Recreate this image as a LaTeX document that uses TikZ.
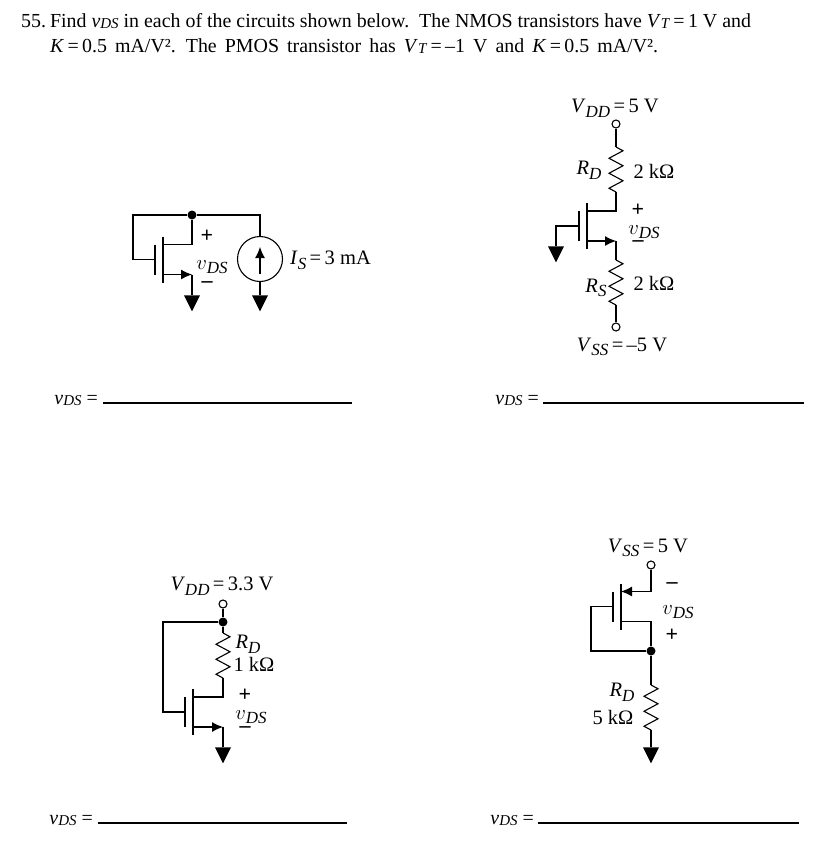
\documentclass[tikz,border=0pt]{standalone}
\usepackage{fontspec}
\setmainfont{Liberation Serif}
\usepackage{tikz}
\usetikzlibrary{shapes,shapes.geometric,arrows.meta,positioning,decorations.pathmorphing}

\newcommand{\sub}[2]{\textit{#1}\raisebox{-0.2ex}{\fontsize{15}{15}\selectfont\textit{#2}}}
\newcommand{\csub}[2]{#1\raisebox{-0.5ex}{\fontsize{17}{17}\selectfont\textit{#2}}}

\tikzstyle{textonly} = [draw=none, fill=none, inner sep=0pt, font=\fontsize{19.9}{22}\selectfont]
\tikzstyle{label} = [draw=none, fill=none, inner sep=0pt, font=\fontsize{20.5}{22}\selectfont]
\tikzstyle{sign} = [draw=none, fill=none, inner sep=0pt, font=\fontsize{22}{22}\selectfont\bfseries]
\tikzstyle{wire} = [draw, line width=1.1pt]
\tikzstyle{tedge} = [draw, line width=1.1pt, -{Latex[length=11pt,width=10pt]}]
\tikzstyle{answer} = [draw, line width=1.6pt]
\tikzstyle{res} = [draw, line width=1.1pt, decorate, decoration={zigzag, amplitude=7pt, segment length=15pt}]
\tikzstyle{term} = [circle, draw=black, line width=1.1pt, fill=white, inner sep=0pt, minimum size=8pt]
\tikzstyle{dotnode} = [circle, fill=black, inner sep=0pt, minimum size=9pt]
\tikzstyle{gnd} = [isosceles triangle, isosceles triangle stretches, shape border rotate=-90, fill=black, inner sep=0pt, minimum width=16pt, minimum height=16pt, anchor=apex]

% gate, bars and the two channel ends of one transistor
\newcommand{\mosfet}[3]{
  \coordinate (#1g) at (#2-8,#3);
  \coordinate (#1t) at (#2,#3-15);
  \coordinate (#1b) at (#2,#3+15);
  \draw[wire] (#2-8,#3-15) -- (#2-8,#3+15);
  \draw[wire] (#2,#3-23) -- (#2,#3+23);
}

\begin{document}
\begin{tikzpicture}[x=1pt, y=-1pt]
\useasboundingbox (0,0) rectangle (825,863);

% question =============================
\node[textonly, anchor=base west] (line1) at (21,27) {55.\hspace{4pt}Find \sub{v}{DS} in each of the circuits shown below.\ \ The NMOS transistors have \sub{V}{T}\,=\,1 V and};
\node[textonly, anchor=base west] (line2) at (50,52) {\spaceskip=8.1pt \textit{K}\,=\,0.5 mA/V².\hspace{10pt}The PMOS transistor has \sub{V}{T}\,=\,–1 V and \textit{K}\,=\,0.5 mA/V².};

% answers =============================
\node[textonly, anchor=base east] (ans1) at (98,404) {\sub{v}{DS} =};
\node[textonly, anchor=base east] (ans2) at (539,404) {\sub{v}{DS} =};
\node[textonly, anchor=base east] (ans3) at (93,824) {\sub{v}{DS} =};
\node[textonly, anchor=base east] (ans4) at (534,824) {\sub{v}{DS} =};
\coordinate (ans1a) at (103,403); \coordinate (ans1b) at (352,403);
\coordinate (ans2a) at (543,403); \coordinate (ans2b) at (804,403);
\coordinate (ans3a) at (98,823);  \coordinate (ans3b) at (347,823);
\coordinate (ans4a) at (538,823); \coordinate (ans4b) at (799,823);
\path[answer] (ans1a) -- (ans1b);
\path[answer] (ans2a) -- (ans2b);
\path[answer] (ans3a) -- (ans3b);
\path[answer] (ans4a) -- (ans4b);

% circuit 1 =============================
\mosfet{ma}{163}{259.5}
\node[dotnode] (dota) at (192,215) {};
\coordinate (loopa) at (133,215);
\coordinate (da) at (192,244.5);
\coordinate (sa) at (192,274.5);
\coordinate (topa) at (260,215);
\node[gnd] (gnda) at (192,312) {};
\node[gnd] (gndb) at (260,312) {};
\node[circle, draw=black, line width=1.1pt, inner sep=0pt, minimum size=45pt] (isrc) at (260,259) {};
\coordinate (isrcb) at (260,274);
\coordinate (isrct) at (260,247);
\node[sign] (pa) at (207,236) {+};
\node[label] (va) at (212,267) {\csub{$v$}{DS}};
\node[sign] (na) at (207,285) {–};
\node[label, anchor=west] (isl) at (290,260) {\csub{\textit{I}}{S}\,=\,3 mA};

\path[wire] (dota) -- (loopa) |- (mag);
\path[wire] (mat) -- (da) -- (dota);
\path[tedge] (mab) -- (sa);
\path[wire] (sa) -- (gnda);
\path[wire] (dota) -- (topa) -- (isrc);
\path[wire] (isrc) -- (gndb);
\path[tedge] (isrcb) -- (isrct);

% circuit 2 =============================
\mosfet{mb}{587}{226}
\node[term] (vddb) at (616,124) {};
\coordinate (rdb1) at (616,147);
\coordinate (rdb2) at (616,192);
\coordinate (db) at (616,211);
\coordinate (sb) at (616,241);
\coordinate (rsb1) at (616,260);
\coordinate (rsb2) at (616,305);
\node[term] (vssb) at (616,327) {};
\coordinate (gb) at (556,226);
\node[gnd] (gndc) at (556,263) {};
\node[label] (vddl) at (615,108) {\csub{\textit{V}}{DD}\,=\,5 V};
\node[label] (rdbl) at (589,170) {\csub{\textit{R}}{D}};
\node[label] (rdbv) at (654,171) {2 kΩ};
\node[sign] (pb) at (638,210) {+};
\node[label] (vb) at (644,232) {\csub{$v$}{DS}};
\node[sign] (nb) at (638,244) {–};
\node[label] (rsbl) at (596,288) {\csub{\textit{R}}{S}};
\node[label] (rsbv) at (654,283) {2 kΩ};
\node[label] (vssl) at (622,347) {\csub{\textit{V}}{SS}\,=\,–5 V};

\path[wire] (vddb) -- (rdb1);
\path[res] (rdb1) -- (rdb2);
\path[wire] (rdb2) -- (db) -- (mbt);
\path[tedge] (mbb) -- (sb);
\path[wire] (sb) -- (rsb1);
\path[res] (rsb1) -- (rsb2);
\path[wire] (rsb2) -- (vssb);
\path[wire] (mbg) -- (gb) -- (gndc);

% circuit 3 =============================
\mosfet{mc}{193}{712}
\node[term] (vddc) at (223,604) {};
\node[dotnode] (dotc) at (223,622) {};
\coordinate (loopc) at (163,622);
\coordinate (rdc1) at (223,633);
\coordinate (rdc2) at (223,678);
\coordinate (dc) at (223,697);
\coordinate (sc) at (223,727);
\node[gnd] (gndd) at (223,764) {};
\node[label] (vddcl) at (222,586) {\csub{\textit{V}}{DD}\,=\,3.3 V};
\node[label] (rdcl) at (248,644) {\csub{\textit{R}}{D}};
\node[label] (rdcv) at (254,664) {1 kΩ};
\node[sign] (pc) at (245,695) {+};
\node[label] (vc) at (251,717) {\csub{$v$}{DS}};
\node[sign] (nc) at (245,730) {–};

\path[wire] (vddc) -- (dotc);
\path[wire] (dotc) -- (rdc1);
\path[res] (rdc1) -- (rdc2);
\path[wire] (rdc2) -- (dc) -- (mct);
\path[tedge] (mcb) -- (sc);
\path[wire] (sc) -- (gndd);
\path[wire] (dotc) -- (loopc) |- (mcg);

% circuit 4 =============================
\mosfet{md}{621}{606.5}
\node[term] (vssd) at (651,565) {};
\node[dotnode] (dotd) at (651,651) {};
\coordinate (sd) at (651,591.5);
\coordinate (dd) at (651,621.5);
\coordinate (loopd) at (591,651);
\coordinate (rdd1) at (651,685);
\coordinate (rdd2) at (651,730);
\node[gnd] (gnde) at (651,764) {};
\node[label] (vssdl) at (648,548) {\csub{\textit{V}}{SS}\,=\,5 V};
\node[sign] (nd) at (672,586) {–};
\node[label] (vd) at (678,612) {\csub{$v$}{DS}};
\node[sign] (pd) at (672,635) {+};
\node[label] (rddl) at (622,692) {\csub{\textit{R}}{D}};
\node[label] (rddv) at (613,717) {5 kΩ};

\path[wire] (vssd) -- (sd);
\path[tedge] (sd) -- (mdt);
\path[wire] (mdb) -- (dd) -- (dotd);
\path[wire] (mdg) -| (loopd) -- (dotd);
\path[wire] (dotd) -- (rdd1);
\path[res] (rdd1) -- (rdd2);
\path[wire] (rdd2) -- (gnde);

\end{tikzpicture}
\end{document}
